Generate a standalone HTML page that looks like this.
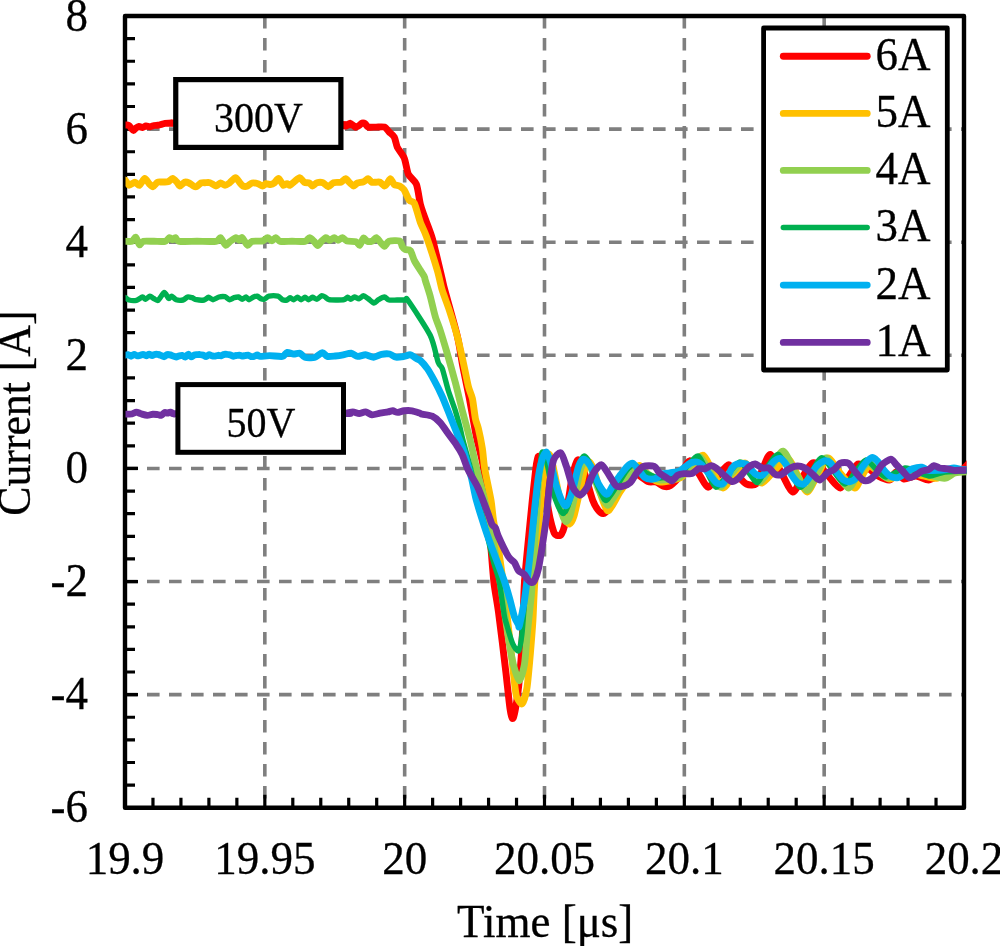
<!DOCTYPE html>
<html lang="en">
<head>
<meta charset="utf-8">
<title>Turn-off current waveforms</title>
<style>
html,body{margin:0;padding:0;background:#fff;}
body{width:1000px;height:946px;overflow:hidden;}
svg{display:block;}
text{font-family:"Liberation Serif","Times New Roman",serif;fill:#000;stroke:#000;stroke-width:0.3px;}
.tick{font-size:45px;}
.box{font-size:40px;}
.grid{stroke:#7f7f7f;stroke-width:3.6;stroke-dasharray:12.6 9.4;fill:none;}
.ax{stroke:#000;fill:none;}
.c{fill:none;stroke-linejoin:round;stroke-linecap:round;}
</style>
</head>
<body>
<svg width="1000" height="946" viewBox="0 0 1000 946">
<rect x="0" y="0" width="1000" height="946" fill="#fff"/>
<g class="grid">
<path d="M125.00 129.11H964.00"/>
<path d="M125.00 242.21H964.00"/>
<path d="M125.00 355.32H964.00"/>
<path d="M125.00 468.43H964.00"/>
<path d="M125.00 581.54H964.00"/>
<path d="M125.00 694.64H964.00"/>
<path d="M264.83 16.00V807.75"/>
<path d="M404.67 16.00V807.75"/>
<path d="M544.50 16.00V807.75"/>
<path d="M684.33 16.00V807.75"/>
<path d="M824.17 16.00V807.75"/>
</g>
<rect class="ax" x="125.0" y="16.0" width="839.0" height="791.75" stroke-width="4.4" stroke-linejoin="round"/>
<path class="ax" stroke-width="3.2" d="M125.0 16.00h13M125.0 38.62h10M125.0 61.24h10M125.0 83.86h10M125.0 106.49h10M125.0 129.11h13M125.0 151.73h10M125.0 174.35h10M125.0 196.97h10M125.0 219.59h10M125.0 242.21h13M125.0 264.84h10M125.0 287.46h10M125.0 310.08h10M125.0 332.70h10M125.0 355.32h13M125.0 377.94h10M125.0 400.56h10M125.0 423.19h10M125.0 445.81h10M125.0 468.43h13M125.0 491.05h10M125.0 513.67h10M125.0 536.29h10M125.0 558.91h10M125.0 581.54h13M125.0 604.16h10M125.0 626.78h10M125.0 649.40h10M125.0 672.02h10M125.0 694.64h13M125.0 717.26h10M125.0 739.89h10M125.0 762.51h10M125.0 785.13h10M125.0 807.75h13M125.00 807.75v-13M152.97 807.75v-10M180.93 807.75v-10M208.90 807.75v-10M236.87 807.75v-10M264.83 807.75v-13M292.80 807.75v-10M320.77 807.75v-10M348.73 807.75v-10M376.70 807.75v-10M404.67 807.75v-13M432.63 807.75v-10M460.60 807.75v-10M488.57 807.75v-10M516.53 807.75v-10M544.50 807.75v-13M572.47 807.75v-10M600.43 807.75v-10M628.40 807.75v-10M656.37 807.75v-10M684.33 807.75v-13M712.30 807.75v-10M740.27 807.75v-10M768.23 807.75v-10M796.20 807.75v-10M824.17 807.75v-13M852.13 807.75v-10M880.10 807.75v-10M908.07 807.75v-10M936.03 807.75v-10M964.00 807.75v-13"/>
<clipPath id="pc"><rect x="125.5" y="10" width="841.1" height="804"/></clipPath>
<g class="c" clip-path="url(#pc)">
<path d="M122.0 125.0C122.4 125.0 124.1 124.9 125.0 125.0C125.9 125.1 128.2 125.1 129.0 125.5C129.8 125.9 130.4 127.4 131.0 128.0C131.6 128.6 132.9 130.5 133.5 130.5C134.1 130.5 135.3 128.5 136.0 128.0C136.7 127.5 138.2 126.6 139.0 126.5C139.8 126.4 141.6 127.6 142.5 127.5C143.4 127.4 145.1 126.1 146.0 126.0C146.9 125.9 149.0 126.8 150.0 126.7C151.0 126.6 153.1 125.7 154.0 125.5C154.9 125.3 156.6 125.4 157.5 125.3C158.4 125.2 160.1 124.8 161.0 124.5C161.9 124.2 163.6 123.5 165.0 123.3C166.4 123.1 170.6 123.0 172.5 123.0C174.4 123.0 159.1 123.3 180.0 123.5C200.9 123.7 319.6 124.3 340.0 124.5C360.4 124.7 342.2 124.9 343.0 125.1C343.8 125.3 345.2 126.3 346.1 126.1C347.0 125.8 349.0 123.0 350.1 123.1C351.2 123.2 354.1 126.7 355.1 127.1C356.1 127.5 357.3 126.6 358.2 126.1C359.1 125.6 361.3 123.4 362.2 123.1C363.1 122.8 364.4 123.2 365.2 123.7C365.9 124.2 366.8 126.7 368.2 127.1C369.6 127.5 374.0 127.1 376.0 127.1C378.0 127.1 382.6 126.5 384.3 127.1C386.0 127.7 388.1 130.8 389.3 132.1C390.6 133.3 393.3 135.2 394.3 137.1C395.3 139.0 396.1 144.6 397.3 147.2C398.6 149.8 402.9 154.8 404.3 158.2C405.7 161.6 406.9 171.0 408.4 174.3C409.9 177.6 414.9 180.5 416.4 184.3C417.9 188.1 419.4 200.4 420.4 204.4C421.4 208.4 422.9 212.2 424.4 216.5C425.9 220.8 430.3 231.2 432.4 238.6C434.5 246.0 439.9 269.6 441.5 276.0C443.1 282.4 442.8 282.5 444.8 290.0C446.8 297.5 455.1 326.4 457.3 336.0C459.6 345.6 461.3 358.6 462.8 366.4C464.3 374.2 467.8 390.5 469.4 398.5C470.9 406.5 474.2 425.4 475.2 430.6C476.2 435.8 476.1 435.2 477.1 440.0C478.2 444.8 482.4 460.5 483.6 468.6C484.8 476.7 486.2 496.2 487.0 505.0C487.8 513.8 489.3 529.6 490.2 539.2C491.1 548.8 492.8 572.4 493.8 581.5C494.8 590.6 497.0 601.0 498.5 612.3C500.0 623.5 504.4 659.5 505.8 671.5C507.2 683.5 509.1 702.9 510.0 708.7C510.9 714.6 512.1 720.0 513.1 718.3C514.1 716.6 516.6 702.3 517.6 695.0C518.6 687.7 520.3 669.4 521.0 660.0C521.7 650.6 522.6 629.8 523.0 620.0C523.4 610.2 523.7 593.0 524.5 581.8C525.3 570.6 528.3 540.6 529.3 530.4C530.3 520.2 531.5 507.9 532.3 500.2C533.1 492.5 535.1 474.1 535.8 468.6C536.5 463.1 537.5 457.2 538.2 456.5C539.0 455.8 540.5 456.3 541.8 463.0C543.1 469.7 547.2 502.4 548.5 510.3C549.8 518.2 551.2 523.1 552.0 526.0C552.8 528.9 553.8 532.3 554.5 533.5C555.2 534.7 557.1 535.5 558.0 535.6C558.9 535.7 560.7 535.2 561.5 534.0C562.3 532.8 563.8 529.0 564.5 526.0C565.2 523.0 566.1 516.0 567.0 510.0C567.9 504.0 570.7 484.2 572.0 478.0C573.3 471.8 576.4 461.5 577.6 460.0C578.9 458.5 580.9 463.5 582.0 466.0C583.1 468.5 585.4 475.9 586.7 480.2C588.0 484.5 591.3 496.5 592.7 500.2C594.1 503.9 596.7 508.3 598.0 510.0C599.3 511.7 601.9 513.8 603.2 513.6C604.6 513.4 607.2 510.8 608.8 508.3C610.4 505.9 613.9 497.5 616.0 494.0C618.1 490.5 623.5 482.5 626.0 480.0C628.5 477.5 633.2 473.8 636.0 474.0C638.8 474.2 645.5 480.6 648.0 481.6C650.5 482.6 654.0 481.4 656.0 482.0C658.0 482.6 662.2 485.9 664.0 486.4C665.8 486.8 668.4 486.9 670.4 485.6C672.4 484.3 677.6 479.1 680.0 476.0C682.4 472.9 687.2 461.1 689.6 460.8C692.0 460.6 696.7 470.7 699.0 474.0C701.3 477.3 705.6 486.9 708.0 487.2C710.4 487.4 715.4 478.8 718.0 476.0C720.6 473.2 726.3 464.8 728.8 464.8C731.3 464.8 735.8 473.6 738.0 476.0C740.2 478.4 744.1 483.0 746.4 484.0C748.6 485.0 753.9 486.0 756.0 484.0C758.1 482.0 761.2 471.7 763.0 468.0C764.8 464.3 768.1 453.9 770.4 454.4C772.6 454.9 778.2 467.3 781.0 472.0C783.8 476.7 790.0 491.5 792.8 492.0C795.5 492.5 800.6 479.6 803.0 476.0C805.4 472.4 809.9 464.4 812.0 463.2C814.1 461.9 817.8 464.1 820.0 466.0C822.2 467.9 827.5 475.2 830.0 478.0C832.5 480.8 838.0 488.2 840.4 488.0C842.8 487.8 846.8 479.0 849.0 476.0C851.2 473.0 855.6 465.0 858.0 464.0C860.4 463.0 865.5 466.5 868.0 468.0C870.5 469.5 875.2 474.5 878.0 476.0C880.8 477.5 887.8 480.5 890.0 480.0C892.2 479.5 894.2 472.1 896.0 472.0C897.8 471.9 901.5 478.5 904.0 479.0C906.5 479.5 913.0 475.9 916.0 476.0C919.0 476.1 925.6 480.0 928.4 480.0C931.1 480.0 935.5 477.1 938.0 476.0C940.5 474.9 945.8 471.6 948.0 471.0C950.2 470.4 954.4 471.6 956.0 471.5C957.6 471.4 959.9 471.0 961.0 470.5C962.1 470.0 963.5 468.4 964.5 467.5C965.5 466.6 968.4 463.6 969.0 463.0" stroke="#ff0000" stroke-width="6.9"/>
<path d="M122.0 180.5C122.4 180.4 124.3 179.4 125.2 180.0C126.1 180.6 127.8 184.9 129.0 185.2C130.2 185.5 133.7 182.2 135.0 182.2C136.3 182.2 138.3 185.7 139.5 185.2C140.7 184.7 143.5 178.7 144.7 178.5C145.9 178.3 148.2 182.7 149.2 183.7C150.2 184.7 152.0 186.9 153.0 186.7C154.0 186.5 156.4 182.8 157.5 182.2C158.6 181.6 160.7 182.1 162.0 182.0C163.3 181.9 166.7 182.2 168.0 181.8C169.3 181.4 171.4 178.4 172.5 178.5C173.6 178.6 176.1 181.3 177.0 182.2C177.9 183.1 179.1 186.0 180.0 186.0C180.9 186.0 183.4 182.6 184.5 182.2C185.6 181.8 187.9 182.5 189.0 183.0C190.1 183.5 192.6 185.5 193.5 186.0C194.4 186.5 195.6 187.1 196.5 186.7C197.4 186.3 199.9 183.5 201.0 183.0C202.1 182.5 203.9 182.7 205.0 182.7C206.1 182.7 208.6 182.3 210.0 182.7C211.4 183.1 214.7 186.0 216.0 186.0C217.3 186.0 219.4 183.1 220.5 183.0C221.6 182.9 223.9 185.2 225.0 185.2C226.1 185.2 228.2 183.9 229.5 183.0C230.8 182.1 234.2 177.7 235.5 177.7C236.8 177.7 239.1 182.0 240.0 183.0C240.9 184.0 242.1 185.6 243.0 186.0C243.9 186.4 246.4 186.4 247.5 186.0C248.6 185.6 250.7 183.3 252.0 183.0C253.3 182.7 256.7 183.3 258.0 183.7C259.3 184.1 261.5 186.0 262.5 186.0C263.5 186.0 265.0 183.9 266.0 183.7C267.0 183.5 269.5 184.6 270.5 184.5C271.5 184.4 273.2 183.8 274.2 183.0C275.2 182.2 277.6 178.2 278.7 178.5C279.8 178.8 282.2 184.5 283.2 185.2C284.2 185.8 286.1 183.7 287.0 183.7C287.9 183.7 289.1 185.5 290.0 185.2C290.9 184.9 293.3 182.4 294.5 181.5C295.7 180.6 298.5 177.6 299.7 177.7C300.9 177.8 303.0 181.5 304.2 182.2C305.4 182.9 308.5 182.5 309.5 183.0C310.5 183.5 311.6 186.0 312.5 186.0C313.4 186.0 315.7 183.1 317.0 182.7C318.3 182.3 321.6 182.2 323.0 182.7C324.4 183.2 326.9 186.7 328.2 186.7C329.5 186.7 331.9 183.3 333.5 182.7C335.1 182.1 339.5 182.7 341.0 182.2C342.5 181.7 344.4 178.7 345.5 178.8C346.6 178.9 349.0 182.1 350.0 183.0C351.0 183.9 352.8 186.0 353.7 186.0C354.6 186.0 356.3 183.5 357.5 183.0C358.7 182.5 362.2 182.3 363.5 181.8C364.8 181.3 367.0 178.8 368.0 178.8C369.0 178.9 370.7 181.8 371.7 182.2C372.7 182.6 375.0 182.2 376.0 182.2C377.0 182.2 378.9 181.7 380.0 182.2C381.1 182.7 383.6 185.9 384.5 186.0C385.4 186.1 386.8 183.9 387.5 183.0C388.2 182.1 389.7 178.6 390.5 178.8C391.3 179.0 393.1 183.6 394.2 184.5C395.3 185.4 398.3 185.3 399.5 186.0C400.7 186.7 402.8 187.9 404.0 189.7C405.2 191.5 408.1 198.7 409.4 200.4C410.7 202.1 413.0 200.6 414.4 203.4C415.8 206.2 418.9 218.4 420.4 222.5C421.9 226.6 424.3 230.6 426.4 236.5C428.5 242.4 435.2 263.3 437.2 270.0C439.2 276.7 440.7 285.1 442.2 290.1C443.7 295.1 447.4 304.4 449.3 310.2C451.2 316.0 455.6 329.8 457.3 336.3C459.1 342.8 461.9 356.1 463.3 362.4C464.7 368.7 467.3 382.0 468.4 386.5C469.5 391.0 471.5 394.5 472.4 398.5C473.3 402.5 474.6 414.8 475.4 418.6C476.1 422.4 477.5 424.8 478.4 428.6C479.3 432.4 481.6 443.7 482.4 448.7C483.2 453.7 483.6 462.2 484.7 468.6C485.8 475.0 489.9 493.7 491.0 500.2C492.1 506.7 492.4 513.3 493.5 520.3C494.6 527.3 498.0 545.6 499.5 556.0C501.0 566.4 503.9 587.3 505.8 603.8C507.8 620.3 513.6 676.2 515.1 688.0C516.6 699.8 516.7 696.5 517.6 698.5C518.5 700.5 521.0 704.9 522.2 703.6C523.4 702.3 525.9 694.5 526.9 688.4C527.9 682.3 529.5 663.0 530.3 654.5C531.0 646.0 532.4 629.2 532.9 620.7C533.4 612.2 533.8 598.2 534.5 586.9C535.2 575.6 537.6 541.7 538.5 530.0C539.4 518.3 541.0 500.5 541.8 493.0C542.5 485.5 543.9 474.4 544.5 470.0C545.1 465.6 546.4 459.4 547.0 457.5C547.6 455.6 548.8 453.4 549.5 454.5C550.2 455.6 551.7 460.3 553.0 466.0C554.3 471.7 558.5 493.5 560.0 500.0C561.5 506.5 563.8 515.0 565.0 518.0C566.2 521.0 568.5 524.2 569.6 524.0C570.7 523.8 572.7 520.2 574.0 516.0C575.3 511.8 578.6 496.0 580.0 490.0C581.4 484.0 583.9 471.6 585.0 468.0C586.1 464.4 587.7 461.4 588.8 461.6C589.9 461.9 592.6 466.2 594.0 470.0C595.4 473.8 598.4 486.9 600.0 492.0C601.6 497.1 605.7 508.6 607.2 510.4C608.7 512.1 610.4 508.3 612.0 506.0C613.6 503.7 617.8 495.5 620.0 492.0C622.2 488.5 628.0 480.9 630.0 478.0C632.0 475.1 634.8 470.1 636.0 468.5C637.2 466.9 638.5 465.4 639.5 465.5C640.5 465.6 642.7 467.6 644.0 469.0C645.3 470.4 648.0 475.4 650.0 477.0C652.0 478.6 656.2 481.9 660.0 482.0C663.8 482.1 676.0 480.0 680.0 478.0C684.0 476.0 689.1 468.9 692.0 466.0C694.9 463.1 700.6 454.4 703.2 455.2C705.8 455.9 710.5 467.9 713.0 472.0C715.5 476.1 720.6 487.8 723.2 488.0C725.8 488.2 731.3 477.1 734.0 474.0C736.7 470.9 742.5 463.0 745.0 463.0C747.5 463.0 751.9 471.5 754.0 474.0C756.1 476.5 759.4 483.5 762.0 483.0C764.6 482.5 771.8 473.1 775.0 470.0C778.2 466.9 785.1 457.6 788.0 458.4C790.9 459.1 795.6 471.8 798.0 476.0C800.4 480.2 804.7 492.2 807.2 492.0C809.7 491.8 815.4 478.2 818.0 474.0C820.6 469.8 825.1 458.0 828.0 458.0C830.9 458.0 837.6 470.2 841.0 474.0C844.4 477.8 852.2 487.8 854.8 488.0C857.4 488.2 860.2 478.8 862.0 476.0C863.8 473.2 866.8 466.4 869.0 466.0C871.2 465.6 877.4 471.4 880.0 473.0C882.6 474.6 886.9 479.1 890.0 479.0C893.1 478.9 901.2 472.5 905.0 472.0C908.8 471.5 916.1 474.2 920.0 475.0C923.9 475.8 932.9 478.8 936.4 478.4C939.9 478.0 945.3 472.9 948.0 472.0C950.7 471.1 955.2 471.2 958.0 471.0C960.8 470.8 968.5 470.6 970.0 470.5" stroke="#ffc000" stroke-width="6.9"/>
<path d="M122.0 241.3C122.4 241.3 124.0 241.3 125.2 241.3C126.5 241.3 130.7 241.8 132.0 241.3C133.3 240.8 134.8 236.8 135.7 237.2C136.6 237.6 138.6 244.2 139.5 244.7C140.4 245.2 141.4 241.7 143.2 241.3C145.0 240.9 151.3 241.3 154.0 241.3C156.7 241.3 163.1 241.8 165.0 241.3C166.9 240.9 168.6 237.9 169.5 237.7C170.4 237.5 171.8 239.8 172.5 239.8C173.2 239.8 174.7 237.5 175.5 237.7C176.3 237.9 176.5 240.9 179.2 241.3C181.9 241.8 192.4 241.3 197.0 241.3C201.6 241.3 213.1 241.8 216.0 241.3C218.9 240.9 219.3 237.2 220.5 237.7C221.7 238.2 224.5 244.8 225.7 245.2C226.9 245.6 228.9 242.2 230.2 241.3C231.5 240.4 235.1 237.8 236.2 237.7C237.3 237.6 238.4 240.2 239.2 240.2C239.9 240.2 241.2 237.1 242.2 237.7C243.2 238.3 246.3 244.8 247.5 245.2C248.7 245.6 250.1 241.8 252.0 241.3C253.9 240.8 260.6 241.4 262.5 241.0C264.4 240.6 266.3 237.7 267.5 237.7C268.7 237.7 271.0 240.7 272.0 240.7C273.0 240.7 274.7 237.6 275.7 237.7C276.7 237.8 278.2 240.9 280.2 241.3C282.2 241.8 288.9 241.3 292.0 241.3C295.1 241.3 302.8 241.8 305.0 241.3C307.2 240.9 308.4 237.7 309.5 237.7C310.6 237.7 313.0 240.3 314.0 241.3C315.0 242.3 316.8 245.5 317.7 245.5C318.6 245.5 320.5 242.3 321.5 241.3C322.5 240.3 325.0 237.8 326.0 237.7C327.0 237.6 328.7 240.2 329.7 240.2C330.7 240.2 333.2 237.7 334.2 237.7C335.2 237.7 337.0 240.2 338.0 240.2C339.0 240.2 341.4 237.6 342.5 237.7C343.6 237.8 345.3 240.5 347.0 241.0C348.7 241.5 354.4 241.2 356.0 241.7C357.6 242.2 358.8 245.7 359.7 245.2C360.6 244.7 362.6 238.5 363.5 238.0C364.4 237.5 366.1 240.9 367.2 241.3C368.3 241.7 371.4 241.4 372.5 241.0C373.6 240.6 375.3 237.6 376.2 237.7C377.1 237.8 379.0 240.6 380.0 241.7C381.0 242.8 383.4 246.2 384.5 246.2C385.6 246.1 387.1 242.0 389.0 241.3C390.9 240.7 397.8 240.3 399.5 241.0C401.2 241.7 401.8 245.9 402.5 247.0C403.2 248.1 404.3 249.2 405.3 249.6C406.3 250.0 409.3 249.2 410.4 250.6C411.5 252.0 413.2 258.2 414.4 260.6C415.6 263.0 418.9 268.0 420.2 270.0C421.4 272.0 423.8 275.4 424.4 276.7C425.0 277.9 424.5 277.6 425.2 280.0C425.9 282.4 428.9 291.6 430.2 296.1C431.4 300.6 433.9 311.9 435.2 316.2C436.4 320.5 438.8 325.9 440.2 330.2C441.6 334.5 444.4 343.8 446.3 350.3C448.2 356.8 453.3 374.9 455.3 382.4C457.3 389.9 460.4 403.4 462.3 410.6C464.2 417.8 468.3 432.8 470.1 440.0C471.9 447.2 474.8 461.1 476.6 468.6C478.4 476.1 482.7 491.4 484.7 500.2C486.7 509.0 490.7 528.0 492.7 538.7C494.7 549.4 498.8 573.1 500.7 585.5C502.6 597.9 506.7 627.7 508.3 637.6C509.9 647.5 512.0 659.3 513.4 664.7C514.8 670.1 517.9 680.8 519.3 680.8C520.7 680.8 523.4 670.1 524.4 664.7C525.4 659.3 526.3 644.2 526.9 637.6C527.5 631.0 528.9 618.6 529.5 612.3C530.1 606.0 530.9 602.2 532.0 586.9C533.1 571.6 536.8 505.9 538.0 490.0C539.2 474.1 541.0 464.6 542.0 460.0C543.0 455.4 544.9 452.2 546.0 453.0C547.1 453.8 549.6 460.8 551.0 466.0C552.4 471.2 555.6 489.0 557.0 495.0C558.4 501.0 560.9 510.7 562.0 514.0C563.1 517.3 564.6 521.4 565.6 521.6C566.6 521.9 568.7 520.0 570.0 516.0C571.3 512.0 574.6 496.0 576.0 490.0C577.4 484.0 579.8 471.6 581.0 468.0C582.2 464.4 584.4 461.6 585.6 461.6C586.9 461.6 589.5 464.7 591.0 468.0C592.5 471.3 596.0 483.4 598.0 488.0C600.0 492.6 605.5 503.3 607.2 504.8C609.0 506.3 610.4 502.1 612.0 500.0C613.6 497.9 617.5 491.2 620.0 488.0C622.5 484.8 629.5 476.5 632.0 474.0C634.5 471.5 638.0 468.0 640.0 468.0C642.0 468.0 645.5 472.5 648.0 474.0C650.5 475.5 656.0 479.6 660.0 480.0C664.0 480.4 676.2 478.8 680.0 477.0C683.8 475.2 687.5 468.5 690.0 466.0C692.5 463.5 697.5 456.2 700.0 457.0C702.5 457.8 707.5 468.2 710.0 472.0C712.5 475.8 717.4 486.8 720.0 487.0C722.6 487.2 728.2 477.0 731.0 474.0C733.8 471.0 739.5 463.1 742.0 463.0C744.5 462.9 748.8 470.6 751.0 473.0C753.2 475.4 757.4 482.9 760.0 482.0C762.6 481.1 769.1 469.9 772.0 466.0C774.9 462.1 780.3 450.4 783.2 451.2C786.1 451.9 792.0 467.1 795.0 472.0C798.0 476.9 804.5 490.3 807.2 490.4C810.0 490.5 814.6 477.1 817.0 473.0C819.4 468.9 823.5 457.9 826.0 458.0C828.5 458.1 834.2 470.2 837.0 474.0C839.8 477.8 845.8 487.9 848.4 488.0C851.0 488.1 855.5 478.1 858.0 475.0C860.5 471.9 865.5 463.5 868.0 463.0C870.5 462.5 875.5 469.1 878.0 471.0C880.5 472.9 884.6 478.1 888.0 478.0C891.4 477.9 900.4 470.5 905.0 470.0C909.6 469.5 920.1 472.9 925.0 474.0C929.9 475.1 940.6 478.5 944.4 478.4C948.1 478.3 951.8 473.9 955.0 473.0C958.2 472.1 968.1 471.7 970.0 471.5" stroke="#92d050" stroke-width="6.9"/>
<path d="M122.0 297.5C122.4 297.5 124.3 297.2 125.2 297.5C126.1 297.8 127.6 299.6 129.0 300.0C130.4 300.4 134.8 300.7 136.5 300.3C138.2 299.9 141.4 297.1 142.5 297.0C143.6 296.9 144.6 299.3 145.5 299.2C146.4 299.1 149.0 296.3 150.0 296.2C151.0 296.1 152.7 298.0 153.7 298.5C154.7 299.0 156.9 301.1 158.2 300.3C159.5 299.6 162.9 292.7 164.2 292.5C165.5 292.3 167.8 298.0 168.7 298.5C169.6 299.0 170.8 296.1 171.7 296.2C172.6 296.3 174.8 299.2 176.2 299.7C177.6 300.2 181.6 300.3 183.0 300.0C184.4 299.7 186.4 297.3 187.5 297.0C188.6 296.7 190.9 297.4 192.0 297.7C193.1 298.0 195.0 299.4 196.5 299.7C198.0 300.0 202.5 300.3 204.0 300.0C205.5 299.7 207.4 297.3 208.5 297.3C209.6 297.3 211.7 299.7 213.0 299.7C214.3 299.7 217.5 297.4 219.0 297.0C220.5 296.6 223.7 296.4 225.0 296.7C226.3 297.0 228.4 299.6 229.5 299.7C230.6 299.8 232.9 298.0 234.0 297.7C235.1 297.4 237.5 296.8 238.5 297.0C239.5 297.2 241.3 299.2 242.2 299.2C243.1 299.2 245.2 296.9 246.0 297.0C246.8 297.1 248.1 299.7 249.0 299.7C249.9 299.7 252.5 297.4 253.5 297.0C254.5 296.6 256.3 296.0 257.2 296.2C258.1 296.4 260.1 298.4 261.0 298.8C261.9 299.2 263.5 299.5 264.5 299.2C265.5 298.9 267.3 296.6 269.0 296.2C270.7 295.8 276.3 295.8 278.0 296.2C279.7 296.6 281.4 299.2 282.5 299.7C283.6 300.2 286.1 300.2 287.0 300.0C287.9 299.8 289.2 297.7 290.0 297.7C290.8 297.7 292.8 299.8 293.7 299.7C294.6 299.6 296.6 297.3 297.5 297.3C298.4 297.3 300.3 299.7 301.2 299.7C302.1 299.7 304.1 297.3 305.0 297.3C305.9 297.3 307.8 299.7 308.7 299.7C309.6 299.7 311.5 297.4 312.5 297.3C313.5 297.2 315.9 299.4 317.0 299.2C318.1 299.0 320.5 296.1 321.5 295.8C322.5 295.5 324.3 296.5 325.2 297.0C326.1 297.5 327.4 299.3 329.0 299.7C330.6 300.1 336.1 300.0 338.0 300.0C339.9 300.0 342.8 300.0 344.0 299.7C345.2 299.4 346.9 297.4 347.7 297.3C348.5 297.2 349.8 299.2 350.7 299.2C351.6 299.2 353.5 297.1 354.5 297.0C355.5 296.9 357.9 298.9 359.0 298.8C360.1 298.7 362.4 295.8 363.5 295.8C364.6 295.8 366.7 297.6 368.0 298.5C369.3 299.4 372.7 302.9 374.0 303.0C375.3 303.1 377.2 300.4 378.5 299.7C379.8 298.9 383.2 297.0 384.5 297.0C385.8 297.0 387.4 299.6 389.0 300.0C390.6 300.4 394.9 300.0 397.0 300.0C399.1 300.0 404.1 299.9 405.5 300.0C406.9 300.1 405.0 296.1 408.1 300.5C411.2 304.9 426.4 327.6 430.2 335.3C434.0 343.0 436.7 358.3 438.2 362.4C439.7 366.5 440.9 364.9 442.2 368.4C443.5 371.9 446.7 385.2 448.3 390.5C449.9 395.8 453.8 405.8 455.3 410.6C456.8 415.4 459.4 424.9 460.3 428.6C461.2 432.3 461.6 435.1 462.9 440.0C464.2 444.9 468.6 460.5 470.5 468.0C472.4 475.5 476.1 492.2 478.0 500.0C479.9 507.8 484.1 522.9 486.0 530.4C487.9 537.9 491.4 553.6 493.0 560.0C494.6 566.4 497.8 574.6 499.2 581.5C500.6 588.4 503.4 610.1 504.3 615.4C505.2 620.7 505.5 620.5 506.5 624.0C507.5 627.5 511.1 640.1 512.6 643.5C514.1 646.9 517.4 651.9 518.6 650.8C519.8 649.6 521.2 640.2 521.9 634.3C522.6 628.4 523.9 609.7 524.4 603.8C524.9 597.9 525.1 596.1 526.1 586.9C527.1 577.7 531.4 540.9 532.7 530.0C534.0 519.1 535.4 507.7 536.3 500.0C537.2 492.3 539.2 474.5 539.9 468.7C540.6 462.9 541.2 455.5 541.7 453.5C542.2 451.5 543.1 451.8 543.8 453.0C544.5 454.2 546.0 458.6 547.0 463.0C548.0 467.4 550.6 482.6 552.0 488.0C553.4 493.4 556.6 502.8 558.0 506.0C559.4 509.2 562.0 513.6 563.2 513.6C564.5 513.6 566.8 509.2 568.0 506.0C569.2 502.8 571.6 493.1 573.0 488.0C574.4 482.9 577.6 469.0 579.0 465.0C580.4 461.0 582.8 456.4 584.0 456.0C585.2 455.6 587.5 458.8 589.0 462.0C590.5 465.2 594.0 477.2 596.0 482.0C598.0 486.8 603.0 498.2 604.8 500.0C606.5 501.8 608.4 498.0 610.0 496.0C611.6 494.0 616.0 487.1 618.0 484.0C620.0 480.9 624.1 473.9 626.0 471.5C627.9 469.1 631.2 465.4 633.0 465.0C634.8 464.6 638.1 467.4 640.0 468.5C641.9 469.6 645.5 472.8 648.0 474.0C650.5 475.2 656.0 478.0 660.0 478.0C664.0 478.0 676.4 475.8 680.0 474.0C683.6 472.2 686.7 466.2 689.0 464.0C691.3 461.8 696.1 455.0 698.4 456.0C700.6 457.0 704.8 468.1 707.0 472.0C709.2 475.9 713.4 486.9 716.0 487.2C718.6 487.4 725.0 477.1 728.0 474.0C731.0 470.9 737.4 462.1 740.0 462.0C742.6 461.9 746.8 470.4 749.0 473.0C751.2 475.6 755.2 483.3 757.6 482.4C760.0 481.5 765.4 469.5 768.0 466.0C770.6 462.5 775.6 453.6 778.4 454.4C781.1 455.1 787.2 467.9 790.0 472.0C792.8 476.1 798.0 487.3 800.8 487.2C803.5 487.1 809.4 474.7 812.0 471.0C814.6 467.3 819.2 457.5 822.0 457.6C824.8 457.7 831.1 468.7 834.0 472.0C836.9 475.3 842.2 484.1 845.0 484.0C847.8 483.9 853.4 474.0 856.0 471.0C858.6 468.0 863.5 460.2 866.0 460.0C868.5 459.8 873.5 466.9 876.0 469.0C878.5 471.1 882.4 477.1 886.0 477.0C889.6 476.9 901.0 468.6 905.0 468.0C909.0 467.4 914.9 471.0 918.0 472.0C921.1 473.0 926.6 476.0 930.0 476.0C933.4 476.0 940.0 472.6 945.0 472.0C950.0 471.4 966.9 471.1 970.0 471.0" stroke="#00b050" stroke-width="5.4"/>
<path d="M122.0 355.7C122.4 355.6 124.4 355.3 125.2 355.2C126.0 355.0 127.4 354.5 128.2 354.7C128.9 354.8 130.4 356.2 131.2 356.2C131.9 356.1 133.4 354.5 134.2 354.4C134.9 354.4 136.4 355.7 137.2 355.8C137.9 355.9 139.4 355.5 140.2 355.3C140.9 355.1 142.4 354.3 143.2 354.4C143.9 354.4 145.4 355.7 146.2 355.7C146.9 355.7 148.4 354.3 149.2 354.3C149.9 354.3 151.4 355.5 152.2 355.5C152.9 355.5 154.4 354.5 155.2 354.4C155.9 354.3 157.4 354.3 158.2 354.5C158.9 354.6 160.4 355.2 161.2 355.5C161.9 355.7 163.4 356.8 164.2 356.7C164.9 356.6 166.4 354.8 167.2 354.6C167.9 354.3 169.4 354.7 170.2 354.9C170.9 355.1 172.4 355.8 173.2 356.1C173.9 356.4 175.4 357.1 176.2 357.0C176.9 357.0 178.4 356.1 179.2 355.9C179.9 355.7 181.4 355.2 182.2 355.4C182.9 355.5 184.4 357.3 185.2 357.1C185.9 357.0 187.4 354.4 188.2 354.3C188.9 354.3 190.4 356.7 191.2 356.8C191.9 356.9 193.4 355.3 194.2 355.1C194.9 354.8 196.4 354.7 197.2 354.6C197.9 354.6 199.4 354.5 200.2 354.6C200.9 354.6 202.4 354.9 203.2 355.1C203.9 355.4 205.4 356.7 206.2 356.6C206.9 356.6 208.4 354.8 209.2 354.7C209.9 354.7 211.4 355.8 212.2 355.9C212.9 356.1 214.4 356.2 215.2 356.1C215.9 356.0 217.4 355.4 218.2 355.3C218.9 355.3 220.4 356.0 221.2 355.8C221.9 355.7 223.4 354.6 224.2 354.4C224.9 354.2 226.4 354.3 227.2 354.4C227.9 354.4 229.4 354.6 230.2 354.8C230.9 355.1 232.4 356.2 233.2 356.2C233.9 356.3 235.4 355.6 236.2 355.5C236.9 355.3 238.4 355.1 239.2 355.1C239.9 355.2 241.4 355.9 242.2 356.0C242.9 356.0 244.4 355.7 245.2 355.6C245.9 355.5 247.4 355.0 248.2 355.1C248.9 355.2 250.4 356.4 251.2 356.6C251.9 356.7 253.4 356.5 254.2 356.3C254.9 356.1 256.5 354.9 257.2 354.9C257.9 354.9 258.4 356.3 260.0 356.4C261.6 356.5 266.8 355.6 269.6 355.6C272.4 355.6 280.2 356.8 282.4 356.4C284.6 356.0 285.8 352.7 287.2 352.4C288.6 352.1 292.0 353.9 293.6 354.0C295.2 354.1 298.6 352.8 300.0 353.2C301.4 353.6 303.0 356.7 304.8 357.2C306.6 357.7 312.2 358.1 314.4 357.5C316.6 356.9 320.8 352.8 322.4 352.7C324.0 352.6 325.6 356.0 327.2 356.4C328.8 356.8 333.2 356.2 335.2 356.0C337.2 355.8 341.2 355.2 343.2 354.8C345.2 354.4 349.4 353.0 351.2 353.2C353.0 353.4 355.8 356.2 357.6 356.4C359.4 356.6 363.6 354.7 365.6 354.8C367.6 354.9 371.6 357.3 373.6 357.2C375.6 357.1 379.6 354.7 381.6 354.3C383.6 353.9 387.8 353.6 389.6 354.0C391.4 354.4 394.2 356.9 396.0 357.2C397.8 357.5 402.2 356.7 404.0 356.4C405.8 356.1 408.8 354.5 410.4 354.8C412.0 355.1 415.6 358.1 416.8 358.8C418.0 359.5 418.9 359.2 420.2 360.4C421.5 361.6 425.4 365.9 427.2 368.4C428.9 370.9 432.3 376.9 434.2 380.4C436.1 383.9 440.2 392.0 442.2 396.5C444.2 401.0 448.3 411.6 450.3 416.6C452.3 421.6 456.6 432.2 458.3 436.7C460.1 441.2 462.7 447.5 464.3 452.7C465.9 457.9 470.0 472.3 471.5 478.2C473.0 484.1 474.5 493.7 476.3 500.2C478.1 506.7 483.4 523.4 485.7 530.4C488.0 537.4 492.6 549.6 495.0 556.0C497.4 562.4 502.6 576.0 504.5 581.5C506.4 587.0 508.8 595.6 510.0 600.0C511.2 604.4 513.4 613.6 514.4 616.7C515.4 619.8 517.8 623.6 518.4 624.7C519.0 625.8 518.6 628.7 519.4 625.7C520.1 622.7 523.1 608.8 524.4 600.6C525.6 592.5 528.1 571.8 529.4 560.5C530.7 549.2 533.4 520.9 534.5 510.3C535.6 499.8 537.5 482.6 538.5 476.1C539.5 469.6 541.5 461.1 542.5 458.1C543.5 455.1 545.5 451.5 546.5 452.0C547.5 452.5 549.2 457.8 550.5 462.1C551.8 466.4 555.0 481.2 556.5 486.2C558.0 491.2 561.3 499.8 562.6 502.2C563.9 504.6 565.4 506.8 566.6 505.3C567.9 503.8 571.1 495.1 572.6 490.2C574.1 485.3 577.2 470.0 578.6 466.1C580.0 462.2 582.2 459.1 583.7 459.1C585.2 459.1 588.8 463.0 590.7 466.1C592.6 469.2 596.7 480.7 598.7 484.2C600.7 487.7 604.9 494.2 606.7 494.4C608.5 494.6 611.0 488.1 612.8 485.6C614.6 483.1 619.0 476.8 620.8 474.4C622.6 472.0 625.7 467.8 627.2 466.4C628.7 465.0 631.4 462.8 632.8 463.2C634.2 463.6 636.9 467.8 638.4 469.6C639.9 471.4 643.2 476.4 644.8 477.6C646.4 478.8 649.6 479.2 651.2 479.2C652.8 479.2 656.5 478.2 657.6 477.6C658.7 477.0 658.5 475.0 660.0 474.4C661.5 473.8 667.2 473.2 669.6 472.8C672.0 472.4 677.2 472.0 679.2 471.2C681.2 470.4 684.0 467.5 685.6 466.4C687.2 465.3 690.4 462.9 692.0 462.4C693.6 461.9 697.0 461.9 698.4 462.4C699.8 462.9 701.8 464.9 703.2 466.4C704.6 467.9 708.0 472.4 709.6 474.4C711.2 476.4 714.4 481.2 716.0 482.4C717.6 483.6 721.0 484.6 722.4 484.0C723.8 483.4 726.0 479.6 727.2 477.6C728.4 475.6 730.8 469.7 732.0 468.0C733.2 466.3 735.0 464.5 736.8 464.0C738.6 463.5 744.6 463.3 746.4 464.0C748.2 464.7 750.0 468.3 751.2 469.6C752.4 470.9 754.6 473.7 756.0 474.4C757.4 475.1 760.8 476.0 762.4 475.2C764.0 474.4 767.4 469.7 768.8 468.0C770.2 466.3 772.2 462.8 773.6 461.6C775.0 460.4 778.4 458.0 780.0 458.4C781.6 458.8 785.0 462.8 786.4 464.8C787.8 466.8 789.8 472.2 791.2 474.4C792.6 476.6 796.0 481.2 797.6 482.4C799.2 483.6 802.4 484.8 804.0 484.0C805.6 483.2 808.9 478.2 810.4 476.0C811.9 473.8 814.6 468.3 816.4 466.4C818.1 464.5 822.6 461.2 824.4 460.8C826.2 460.4 829.2 461.7 830.8 463.2C832.4 464.7 835.6 470.7 837.2 472.8C838.8 474.9 842.0 478.9 843.6 480.0C845.2 481.1 848.4 481.9 850.0 481.6C851.6 481.3 854.8 479.5 856.4 477.6C858.0 475.7 860.9 468.9 862.8 466.4C864.7 463.9 869.8 458.3 871.6 457.6C873.4 456.9 875.7 459.3 877.2 460.8C878.7 462.3 882.0 467.7 883.6 469.6C885.2 471.5 888.2 475.0 890.0 476.0C891.8 477.0 896.0 478.0 898.0 477.6C900.0 477.2 904.2 473.9 906.0 472.8C907.8 471.7 910.4 469.5 912.4 468.8C914.4 468.1 920.0 467.0 922.0 467.2C924.0 467.4 926.4 470.0 928.4 470.4C930.4 470.8 935.8 470.5 938.0 470.4C940.2 470.3 944.0 469.9 946.0 469.6C948.0 469.3 952.0 468.0 954.0 468.0C956.0 468.0 960.0 469.4 962.0 469.6C964.0 469.8 969.0 469.6 970.0 469.6" stroke="#00b0f0" stroke-width="6.9"/>
<path d="M122.0 414.1C122.4 414.1 124.0 414.1 125.2 414.1C126.4 414.1 130.5 414.1 131.9 413.9C133.3 413.6 135.3 412.1 136.4 412.1C137.5 412.1 139.6 413.4 141.0 413.8C142.4 414.2 145.8 415.3 147.3 415.4C148.8 415.4 151.6 414.3 152.9 414.2C154.2 414.1 156.8 414.5 157.8 414.6C158.9 414.7 160.4 415.6 161.3 415.3C162.2 415.0 164.0 412.8 164.8 412.5C165.6 412.2 166.9 413.2 167.6 413.1C168.3 413.1 169.5 412.0 170.4 412.1C171.3 412.2 172.8 413.7 174.6 413.9C176.4 414.1 164.3 413.6 185.0 413.5C205.7 413.4 319.8 413.5 340.0 413.5C360.2 413.5 344.8 413.4 346.4 413.2C348.0 413.0 351.2 411.9 352.8 411.9C354.4 411.9 357.6 413.5 359.2 413.5C360.8 413.5 364.0 411.7 365.6 411.9C367.2 412.1 370.2 414.6 372.0 414.8C373.8 415.0 378.0 413.6 380.0 413.2C382.0 412.8 386.4 412.2 388.0 411.9C389.6 411.6 391.6 410.7 392.8 410.8C394.0 410.9 396.2 412.4 397.6 412.4C399.0 412.4 402.2 411.0 404.0 410.8C405.8 410.6 410.0 410.5 412.0 410.8C414.0 411.1 418.7 412.8 420.0 413.2C421.3 413.6 420.7 413.8 422.2 414.2C423.7 414.6 429.9 415.1 432.2 416.2C434.4 417.2 438.2 420.4 440.2 422.6C442.2 424.8 446.3 430.9 448.3 433.7C450.3 436.5 454.6 442.1 456.3 444.7C458.1 447.3 460.8 451.5 462.3 454.7C463.8 457.9 466.2 465.9 468.2 470.1C470.2 474.3 475.7 482.7 478.2 488.2C480.7 493.7 486.6 509.8 488.3 514.3C490.0 518.8 491.1 522.8 492.0 524.5C492.9 526.2 494.7 526.6 495.5 528.0C496.3 529.4 496.6 532.4 498.2 536.0C499.8 539.6 506.4 553.2 508.4 556.5C510.4 559.8 513.1 560.8 514.4 562.5C515.6 564.2 517.1 569.0 518.4 570.5C519.6 572.0 523.2 573.3 524.4 574.5C525.6 575.7 527.1 579.0 528.0 580.0C528.9 581.0 530.6 582.5 531.4 582.6C532.2 582.7 533.6 582.3 534.5 580.5C535.4 578.7 537.5 573.0 538.5 568.5C539.5 564.0 541.5 550.9 542.5 544.4C543.5 537.9 545.6 523.8 546.5 516.3C547.4 508.7 548.7 491.0 549.6 484.0C550.5 477.0 552.2 463.9 553.6 460.0C555.0 456.1 559.2 452.0 560.8 452.8C562.4 453.6 564.9 462.1 566.4 466.4C567.9 470.7 571.1 483.6 572.8 487.2C574.5 490.8 578.2 495.2 580.0 495.2C581.8 495.2 585.5 490.0 587.2 487.2C588.9 484.4 591.8 475.6 593.6 472.8C595.4 470.0 599.6 464.4 601.6 464.8C603.6 465.2 607.8 473.4 609.6 476.0C611.4 478.6 614.4 484.3 616.0 485.6C617.6 486.9 620.6 486.8 622.4 486.4C624.2 486.0 628.6 484.1 630.4 482.4C632.2 480.7 635.2 474.8 636.8 472.8C638.4 470.8 641.0 467.2 643.2 466.4C645.4 465.6 652.4 465.6 654.4 466.4C656.4 467.2 657.7 471.4 659.2 472.8C660.7 474.2 664.8 476.6 666.4 477.6C668.0 478.6 670.6 481.1 672.0 480.8C673.4 480.5 676.1 476.1 677.6 475.2C679.1 474.3 682.2 473.8 684.0 473.6C685.8 473.4 690.2 474.2 692.0 473.6C693.8 473.0 696.8 469.4 698.4 468.8C700.0 468.2 703.2 469.2 704.8 468.8C706.4 468.4 709.8 465.7 711.2 465.6C712.6 465.5 714.4 466.8 716.0 468.0C717.6 469.2 722.0 473.5 724.0 475.2C726.0 476.9 730.2 481.2 732.0 481.6C733.8 482.0 736.8 479.7 738.4 478.4C740.0 477.1 743.4 472.7 744.8 471.2C746.2 469.7 748.3 467.3 749.6 466.4C750.9 465.5 753.6 463.8 755.2 464.0C756.8 464.2 760.7 467.5 762.4 468.0C764.1 468.5 767.2 467.2 768.8 468.0C770.4 468.8 773.6 473.6 775.2 474.4C776.8 475.2 780.0 475.0 781.6 474.4C783.2 473.8 786.4 470.6 788.0 469.6C789.6 468.6 792.8 466.8 794.4 466.4C796.0 466.0 799.2 466.0 800.8 466.4C802.4 466.8 805.6 468.5 807.2 469.6C808.8 470.7 812.1 473.9 813.6 475.2C815.1 476.5 817.9 480.3 819.6 480.0C821.4 479.7 825.8 474.1 827.6 472.8C829.4 471.5 832.4 470.8 834.0 469.6C835.6 468.4 838.6 464.0 840.4 463.2C842.2 462.4 846.6 462.2 848.4 463.2C850.2 464.2 853.0 469.1 854.8 471.2C856.6 473.3 861.0 478.9 862.8 480.0C864.6 481.1 867.6 480.7 869.2 480.0C870.8 479.3 874.0 476.3 875.6 474.4C877.2 472.5 880.1 466.7 882.0 464.8C883.9 462.9 889.0 459.2 890.8 459.2C892.6 459.2 894.9 463.3 896.4 464.8C897.9 466.3 901.2 469.6 902.8 471.2C904.4 472.8 907.6 477.1 909.2 477.6C910.8 478.1 914.0 476.0 915.6 475.2C917.2 474.4 920.4 471.9 922.0 471.2C923.6 470.5 926.9 470.3 928.4 469.6C929.9 468.9 932.6 465.8 934.0 465.6C935.4 465.4 937.9 467.6 939.6 468.0C941.3 468.4 945.8 468.5 947.6 468.8C949.4 469.1 952.2 470.2 954.0 470.4C955.8 470.6 960.0 470.2 962.0 470.2C964.0 470.2 969.0 470.2 970.0 470.2" stroke="#7030a0" stroke-width="6.9"/>
</g>
<rect x="175.75" y="79.6" width="165.15" height="67.8" fill="#fff" stroke="#000" stroke-width="5.2"/>
<text class="box" transform="translate(258.4 132.0) scale(1 1.035)" text-anchor="middle">300V</text>
<rect x="177.9" y="384.6" width="165.6" height="67.7" fill="#fff" stroke="#000" stroke-width="5"/>
<text class="box" transform="translate(261.0 437.3) scale(1 1.035)" text-anchor="middle">50V</text>
<rect x="763.6" y="28" width="183.7" height="342" fill="#fff" stroke="#000" stroke-width="4.8" stroke-linejoin="round"/>
<path class="c" d="M783.3 56.2H867.2" stroke="#ff0000" stroke-width="6.9"/>
<text class="tick" transform="translate(875.6 69.7) scale(1 1.035)">6A</text>
<path class="c" d="M783.3 113.4H867.2" stroke="#ffc000" stroke-width="6.9"/>
<text class="tick" transform="translate(875.6 126.9) scale(1 1.035)">5A</text>
<path class="c" d="M783.3 170.4H867.2" stroke="#92d050" stroke-width="6.9"/>
<text class="tick" transform="translate(875.6 183.9) scale(1 1.035)">4A</text>
<path class="c" d="M783.3 227.5H867.2" stroke="#00b050" stroke-width="5.4"/>
<text class="tick" transform="translate(875.6 241.0) scale(1 1.035)">3A</text>
<path class="c" d="M783.3 285.1H867.2" stroke="#00b0f0" stroke-width="6.9"/>
<text class="tick" transform="translate(875.6 298.6) scale(1 1.035)">2A</text>
<path class="c" d="M783.3 342.4H867.2" stroke="#7030a0" stroke-width="6.9"/>
<text class="tick" transform="translate(875.6 355.9) scale(1 1.035)">1A</text>
<text class="tick" transform="translate(88.0 30.6) scale(1 1.035)" text-anchor="end">8</text>
<text class="tick" transform="translate(88.0 143.7) scale(1 1.035)" text-anchor="end">6</text>
<text class="tick" transform="translate(88.0 256.8) scale(1 1.035)" text-anchor="end">4</text>
<text class="tick" transform="translate(88.0 369.9) scale(1 1.035)" text-anchor="end">2</text>
<text class="tick" transform="translate(88.0 483.0) scale(1 1.035)" text-anchor="end">0</text>
<text class="tick" transform="translate(88.0 596.1) scale(1 1.035)" text-anchor="end">-2</text>
<text class="tick" transform="translate(88.0 709.2) scale(1 1.035)" text-anchor="end">-4</text>
<text class="tick" transform="translate(88.0 822.4) scale(1 1.035)" text-anchor="end">-6</text>
<text class="tick" transform="translate(125.0 873.6) scale(1 1.035)" text-anchor="middle">19.9</text>
<text class="tick" transform="translate(264.8 873.6) scale(1 1.035)" text-anchor="middle">19.95</text>
<text class="tick" transform="translate(404.7 873.6) scale(1 1.035)" text-anchor="middle">20</text>
<text class="tick" transform="translate(544.5 873.6) scale(1 1.035)" text-anchor="middle">20.05</text>
<text class="tick" transform="translate(684.3 873.6) scale(1 1.035)" text-anchor="middle">20.1</text>
<text class="tick" transform="translate(824.2 873.6) scale(1 1.035)" text-anchor="middle">20.15</text>
<text class="tick" transform="translate(964.0 873.6) scale(1 1.035)" text-anchor="middle">20.2</text>
<text class="tick" transform="translate(545.2 936.9) scale(1 1.035)" text-anchor="middle">Time [μs]</text>
<text class="tick" transform="translate(30 413.1) rotate(-90) scale(0.972 1.035)" text-anchor="middle">Current [A]</text>
</svg>
</body>
</html>
